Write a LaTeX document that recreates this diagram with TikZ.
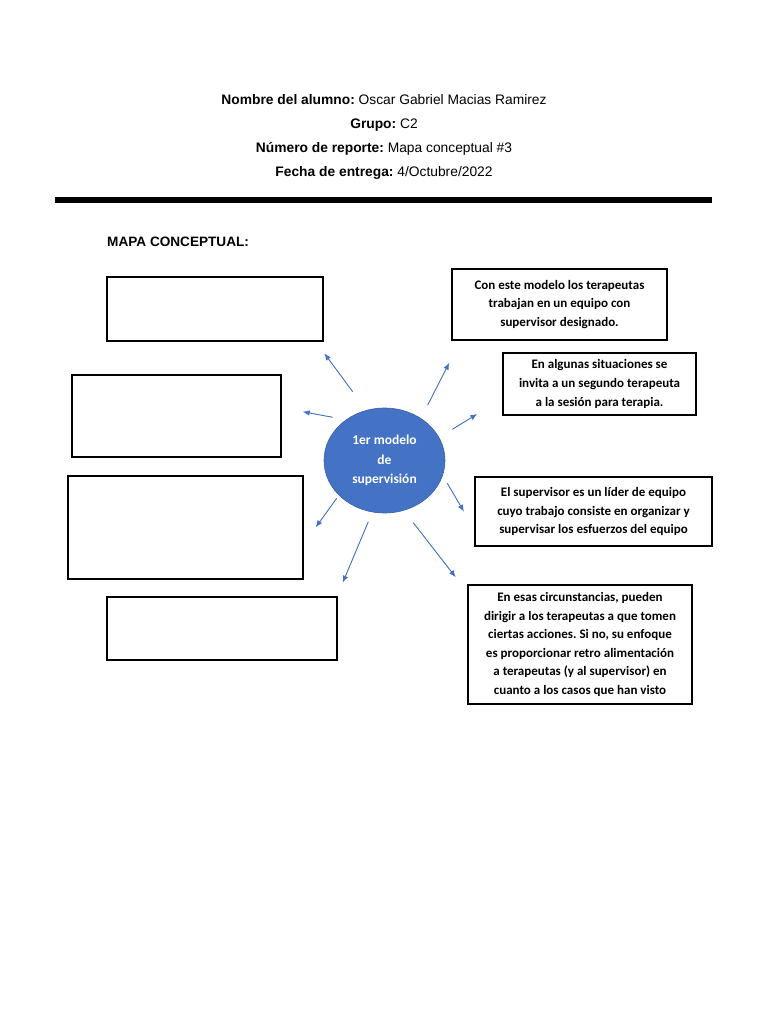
\documentclass[tikz,border=0pt]{standalone}
\usepackage{fontspec}
\setmainfont{Liberation Sans}
\newfontfamily\calibri{Carlito}
\usetikzlibrary{arrows.meta,shapes.geometric}
\frenchspacing

\definecolor{mapblue}{HTML}{4472C4}

\begin{document}
\begin{tikzpicture}[x=1pt,y=-1pt]

\tikzstyle{hdr} = [font=\fontsize{13.8}{17}\selectfont,inner sep=0]%
\tikzstyle{mapbox} = [rectangle,draw=black,line width=1.3pt,fill=white,inner sep=0,align=center,font=\calibri\bfseries\fontsize{13}{18.6}\selectfont]%
\tikzstyle{mapcentre} = [ellipse,draw=mapblue!85!black,line width=0.6pt,fill=mapblue,inner sep=0,minimum width=121pt,minimum height=105pt,align=center,text=white,font=\calibri\bfseries\fontsize{13.5}{19.5}\selectfont]%
\tikzstyle{maparc} = [-{Latex[length=7pt,width=5.5pt]},draw=mapblue,fill=mapblue,line width=0.9pt]%

\useasboundingbox (0,0) rectangle (768,1024);

% encabezado
\node[hdr] (nombre) at (384,100) {\textbf{Nombre del alumno:} Oscar Gabriel Macias Ramirez};
\node[hdr] (grupo) at (384,125) {\textbf{Grupo:} C2};
\node[hdr] (reporte) at (384,149) {\textbf{Número de reporte:} Mapa conceptual \#3};
\node[hdr] (fecha) at (384,173) {\textbf{Fecha de entrega:} 4/Octubre/2022};
\draw[line width=5.5pt] (55,200) -- (712,200);

\node[hdr,anchor=west,font=\bfseries\fontsize{13.6}{16}\selectfont] (titulo) at (107,242) {MAPA CONCEPTUAL:};

% centro
\node[mapcentre] (sup) at (384.5,460.5) {1er modelo\\de\\supervisión};

% cajas izquierdas (vacias)
\node[mapbox,minimum width=216pt,minimum height=64pt] (box1) at (215,309) {};
\node[mapbox,minimum width=209pt,minimum height=82pt] (box2) at (176.5,416) {};
\node[mapbox,minimum width=235pt,minimum height=103pt] (box3) at (185.5,527.5) {};
\node[mapbox,minimum width=230pt,minimum height=63pt] (box4) at (222,628.5) {};

% cajas derechas
\node[mapbox,minimum width=215pt,minimum height=71pt] (equipo) at (559.5,304.5)
    {Con este modelo los terapeutas\\trabajan en un equipo con\\supervisor designado.};
\node[mapbox,minimum width=193pt,minimum height=62pt] (invita) at (599.5,384)
    {En algunas situaciones se\\invita a un segundo terapeuta\\a la sesión para terapia.};
\node[mapbox,minimum width=237pt,minimum height=69pt] (lider) at (593.5,511.5)
    {El supervisor es un líder de equipo\\cuyo trabajo consiste en organizar y\\supervisar los esfuerzos del equipo};
\node[mapbox,minimum width=224pt,minimum height=119pt] (casos) at (580,644.5)
    {En esas circunstancias, pueden\\dirigir a los terapeutas a que tomen\\ciertas acciones. Si no, su enfoque\\es proporcionar retro alimentación\\a terapeutas (y al supervisor) en\\cuanto a los casos que han visto};

% flechas
\coordinate (a1s) at (352.7,391.7); \coordinate (a1e) at (324.3,353.3);
\coordinate (a2s) at (332.7,417.3); \coordinate (a2e) at (302.7,411.7);
\coordinate (a3s) at (336.7,498.3); \coordinate (a3e) at (315.7,527.3);
\coordinate (a4s) at (368.3,521.7); \coordinate (a4e) at (342.7,582.7);
\coordinate (a5s) at (427.7,405.0); \coordinate (a5e) at (449.3,362.7);
\coordinate (a6s) at (452.3,429.3); \coordinate (a6e) at (477.3,414.0);
\coordinate (a7s) at (447.3,483.3); \coordinate (a7e) at (464.0,511.7);
\coordinate (a8s) at (413.3,522.7); \coordinate (a8e) at (455.7,577.3);

\foreach \i in {1,...,8}
    \draw[maparc] (a\i s) -- (a\i e);

\end{tikzpicture}
\end{document}
